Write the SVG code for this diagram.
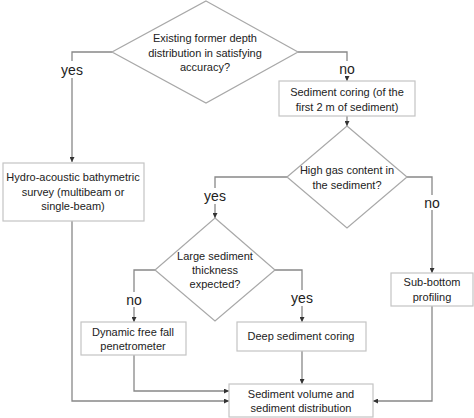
<svg xmlns="http://www.w3.org/2000/svg" width="474" height="418" viewBox="0 0 474 418">
<defs>
<marker id="ah" markerWidth="5" markerHeight="5" refX="5" refY="2.5" orient="auto" markerUnits="userSpaceOnUse">
<path d="M0,0 L5,2.5 L0,5 z" fill="#333"/>
</marker>
<style>
.box{fill:#fff;stroke:#c4c4c4;stroke-width:1.2}
.dia{fill:#fff;stroke:#a8a8a8;stroke-width:1.2}
.t{font-family:"Liberation Sans",Arial,sans-serif;font-size:11px;fill:#222;text-anchor:middle}
.l{font-family:"Liberation Sans",Arial,sans-serif;font-size:14px;fill:#222;text-anchor:middle}
.c{fill:none;stroke:#888;stroke-width:1.3}
.a{marker-end:url(#ah)}
.bg{fill:#fff}
</style>
</defs>
<rect width="474" height="418" fill="#fff"/>
<g id="connectors">
<path class="c a" d="M112,52 H72 V162"/>
<path class="c a" d="M298,52 H347 V81"/>
<path class="c a" d="M347,116 V126"/>
<path class="c a" d="M287,177 H215 V218"/>
<path class="c a" d="M407,177 H432 V273"/>
<path class="c a" d="M155,270 H134 V322"/>
<path class="c a" d="M275,270 H302 V322"/>
<path class="c a" d="M72,221 V401 H229"/>
<path class="c a" d="M134,355 V391 H229"/>
<path class="c a" d="M302,351 V384"/>
<path class="c a" d="M432,306 V401 H373"/>
<rect class="bg" x="60" y="61" width="24" height="17"/>
<text class="l" x="72" y="75">yes</text>
<rect class="bg" x="337" y="61" width="20" height="15"/>
<text class="l" x="347" y="74">no</text>
<rect class="bg" x="203" y="188" width="24" height="16"/>
<text class="l" x="215" y="201">yes</text>
<rect class="bg" x="422" y="195" width="20" height="15"/>
<text class="l" x="432" y="208">no</text>
<rect class="bg" x="124" y="292" width="20" height="15"/>
<text class="l" x="134" y="305">no</text>
<rect class="bg" x="290" y="290" width="24" height="16"/>
<text class="l" x="302" y="303">yes</text>
</g>
<g id="q1">
<polygon class="dia" points="206,1 298,52 206,103 112,52"/>
<text class="t" x="205" y="42">Existing former depth</text>
<text class="t" x="205" y="57">distribution in satisfying</text>
<text class="t" x="205" y="71">accuracy?</text>
</g>
<g id="coring">
<rect class="box" x="279" y="81" width="136" height="35"/>
<text class="t" x="347" y="96">Sediment coring (of the</text>
<text class="t" x="347" y="111">first 2 m of sediment)</text>
</g>
<g id="q2">
<polygon class="dia" points="347,126 407,177 347,228 287,177"/>
<text class="t" x="347" y="174">High gas content in</text>
<text class="t" x="347" y="189">the sediment?</text>
</g>
<g id="hydro">
<rect class="box" x="3" y="163" width="141" height="58"/>
<text class="t" x="73" y="181">Hydro-acoustic bathymetric</text>
<text class="t" x="73" y="196">survey (multibeam or</text>
<text class="t" x="73" y="210">single-beam)</text>
</g>
<g id="q3">
<polygon class="dia" points="215,218 275,270 215,321 155,270"/>
<text class="t" x="215" y="260">Large sediment</text>
<text class="t" x="215" y="274">thickness</text>
<text class="t" x="215" y="288">expected?</text>
</g>
<g id="subbottom">
<rect class="box" x="391" y="273" width="82" height="33"/>
<text class="t" x="432" y="286">Sub-bottom</text>
<text class="t" x="432" y="301">profiling</text>
</g>
<g id="dynamic">
<rect class="box" x="81" y="322" width="105" height="33"/>
<text class="t" x="133" y="336">Dynamic free fall</text>
<text class="t" x="133" y="350">penetrometer</text>
</g>
<g id="deep">
<rect class="box" x="237" y="322" width="129" height="29"/>
<text class="t" x="301" y="340">Deep sediment coring</text>
</g>
<g id="volume">
<rect class="box" x="229" y="384" width="144" height="33"/>
<text class="t" x="301" y="398">Sediment volume and</text>
<text class="t" x="301" y="412">sediment distribution</text>
</g>
</svg>
